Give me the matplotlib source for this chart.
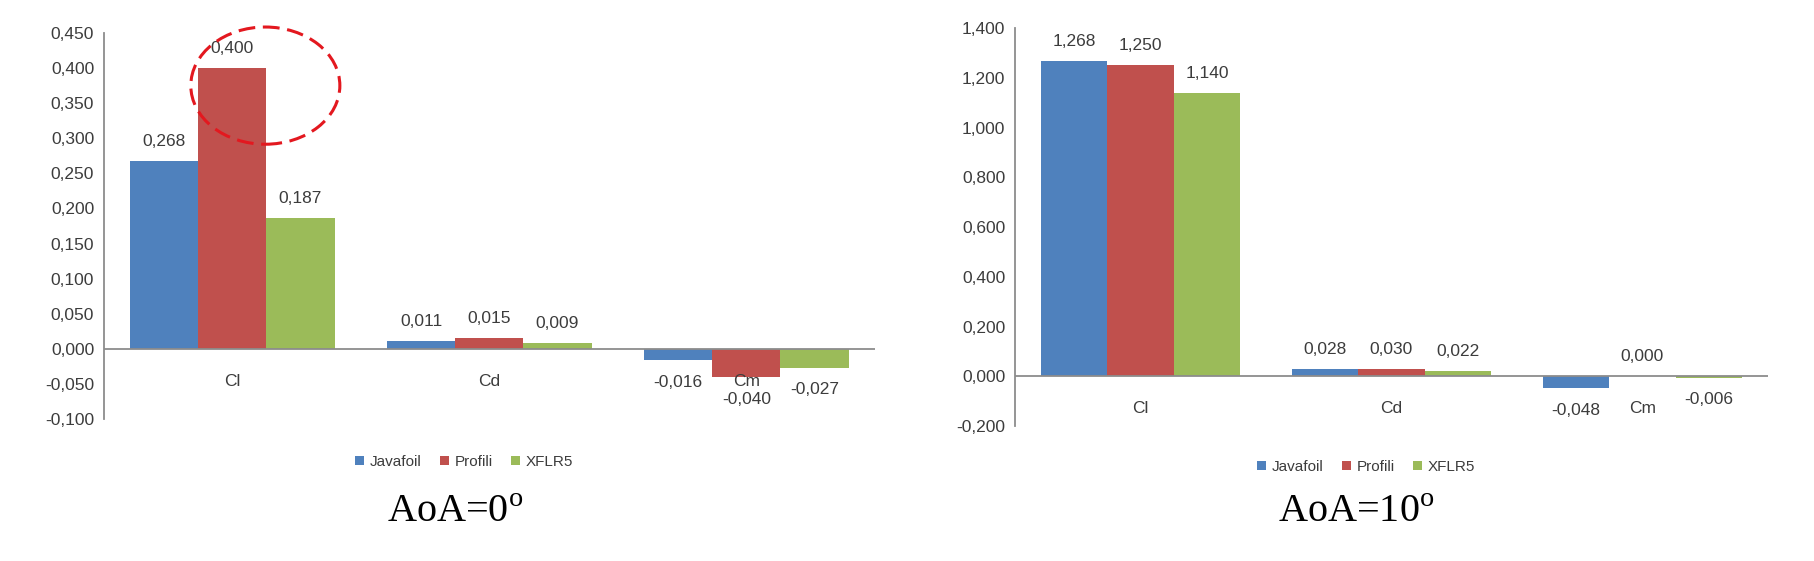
import numpy as np
import matplotlib
matplotlib.use("Agg")
import matplotlib.pyplot as plt
from matplotlib.patches import Ellipse, Patch

# data
categories = ["Cl", "Cd", "Cm"]
series_names = ["Javafoil", "Profili", "XFLR5"]
colors = ["#4f81bd", "#c0504d", "#9bbb59"]

aoa0_javafoil = [0.268, 0.011, -0.016]
aoa0_profili = [0.400, 0.015, -0.040]
aoa0_xflr5 = [0.187, 0.009, -0.027]

aoa10_javafoil = [1.268, 0.028, -0.048]
aoa10_profili = [1.250, 0.030, 0.000]
aoa10_xflr5 = [1.140, 0.022, -0.006]

aoa0_ticks = np.arange(-0.100, 0.451, 0.050)
aoa10_ticks = np.arange(-0.200, 1.401, 0.200)

plt.rcParams["font.family"] = ["Liberation Sans Narrow", "Liberation Sans", "DejaVu Sans"]
plt.rcParams["mathtext.fontset"] = "custom"
plt.rcParams["mathtext.rm"] = "Liberation Serif"

TXT = "#3c3c3c"
AX = "#8c8c8c"
FS = 12.5


def fmt(v):
    return f"{v:.3f}".replace(".", ",")


def draw_chart(ax, series, ticks):
    x = np.arange(len(categories))
    w = 0.265
    for i, vals in enumerate(series):
        xs = x + (i - 1) * w
        ax.bar(xs, vals, w, color=colors[i], zorder=2)
        for xi, v in zip(xs, vals):
            dy = 14 if v >= 0 else -16
            ax.annotate(fmt(v), (xi, v), xytext=(0, dy), textcoords="offset points",
                        ha="center", va="center", fontsize=FS, color=TXT, zorder=4)
    for xi, c in zip(x, categories):
        ax.annotate(c, (xi, 0), xytext=(0, -23.5), textcoords="offset points",
                    ha="center", va="center", fontsize=FS, color=TXT, zorder=4)
    ax.axhline(0, color=AX, lw=1.3, zorder=3)
    ax.set_xlim(-0.5, len(categories) - 0.5)
    ax.set_ylim(ticks[0], ticks[-1])
    ax.set_yticks(ticks)
    ax.set_yticklabels([fmt(t) for t in ticks])
    ax.set_xticks([])
    for s in ["top", "right", "bottom"]:
        ax.spines[s].set_visible(False)
    ax.spines["left"].set_color(AX)
    ax.spines["left"].set_linewidth(1.3)
    ax.tick_params(axis="y", length=0, pad=7, labelsize=FS, labelcolor=TXT)


fig = plt.figure(figsize=(18.14, 5.61), dpi=100)
fig.patch.set_facecolor("white")

ax1 = fig.add_axes([0.0573, 0.2531, 0.4250, 0.6881])
draw_chart(ax1, [aoa0_javafoil, aoa0_profili, aoa0_xflr5], aoa0_ticks)

ax2 = fig.add_axes([0.5595, 0.2406, 0.4151, 0.7094])
draw_chart(ax2, [aoa10_javafoil, aoa10_profili, aoa10_xflr5], aoa10_ticks)

# red dashed circle around the Profili Cl bar
ell = Ellipse((0.128, aoa0_profili[0] - 0.025), 0.58, 0.167, fill=False,
              edgecolor="#e3181f", lw=2.2, linestyle=(0, (5.5, 2.5)),
              clip_on=False, zorder=5)
ax1.add_patch(ell)

handles = [Patch(facecolor=c, label=n) for c, n in zip(colors, series_names)]
for cx, cy in [(0.2558, 0.1765), (0.7530, 0.1676)]:
    fig.legend(handles=handles, loc="center", bbox_to_anchor=(cx, cy), ncol=3,
               frameon=False, fontsize=11, labelcolor=TXT, handlelength=0.6,
               handleheight=0.6, handletextpad=0.35, columnspacing=1.2)

fig.text(0.2508, 1 - 522 / 561, r"AoA=0$^{\mathrm{o}}$", family="Liberation Serif",
         fontsize=29, ha="center", va="baseline", color="black")
fig.text(0.7475, 1 - 522 / 561, r"AoA=10$^{\mathrm{o}}$", family="Liberation Serif",
         fontsize=29, ha="center", va="baseline", color="black")

fig.savefig("out.png", dpi=100, facecolor="white")
